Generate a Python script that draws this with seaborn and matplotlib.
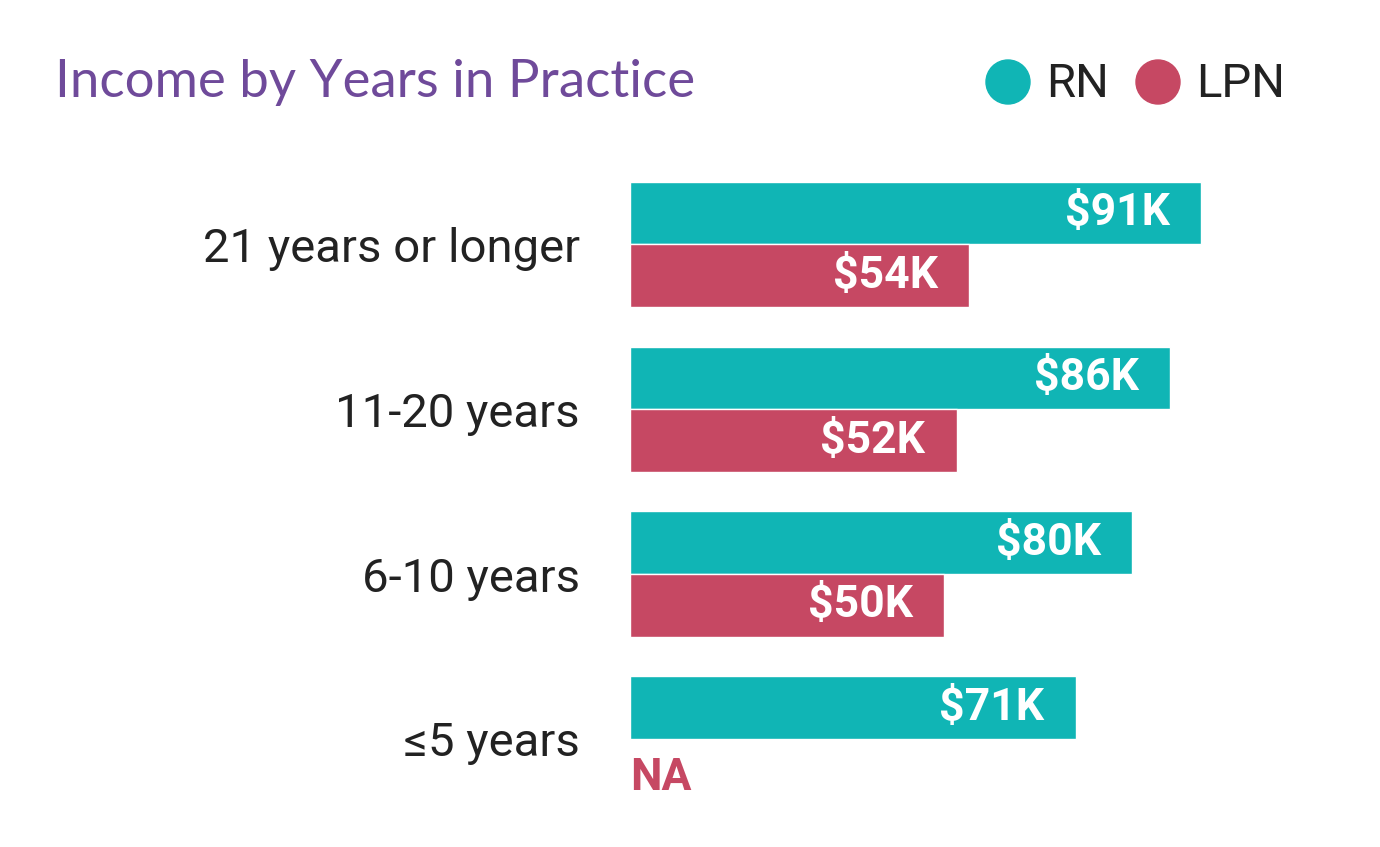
import matplotlib
matplotlib.use("Agg")
import matplotlib.pyplot as plt
import seaborn as sns
import pandas as pd
import numpy as np

categories = ["21 years or longer", "11-20 years", "6-10 years", "≤5 years"]
rn_values = [91, 86, 80, 71]
lpn_values = [54, 52, 50, np.nan]
rn_labels = ["$91K", "$86K", "$80K", "$71K"]
lpn_labels = ["$54K", "$52K", "$50K", "NA"]
series = ["RN", "LPN"]
colors = {"RN": "#10b5b5", "LPN": "#c64863"}

sns.set_theme(style="white")
plt.rcParams['font.family'] = ['Liberation Sans Narrow', 'Roboto', 'DejaVu Sans']

df = pd.DataFrame({
    "cat": categories * 2,
    "val": rn_values + lpn_values,
    "series": ["RN"] * 4 + ["LPN"] * 4,
})

W, H = 1380, 847
fig = plt.figure(figsize=(13.8, 8.47), dpi=100)
top_px, bot_px, left_px, right_px = 140, 820, 630, 1300
ax = fig.add_axes([left_px / W, 1 - bot_px / H, (right_px - left_px) / W, (bot_px - top_px) / H])
sns.barplot(data=df, y="cat", x="val", hue="series", order=categories, hue_order=series,
            palette=colors, orient="h", width=0.76, ax=ax, legend=False, saturation=1)
unit = 164.8
ax.set_ylim((bot_px - 244.5) / unit, (top_px - 244.5) / unit)
ax.set_xlim(0, (right_px - left_px) / 6.28)
for s in ax.spines.values():
    s.set_visible(False)
ax.set_xticks([])
ax.set_xlabel("")
ax.set_ylabel("")
ax.tick_params(axis="y", length=0, pad=36, labelsize=34, labelcolor="#222222")

off = 0.19
for i in range(4):
    ax.text(rn_values[i] - 5, i - off, rn_labels[i], ha="right", va="center",
            color="white", fontsize=32, fontweight="bold")
    if np.isnan(lpn_values[i]):
        ax.text(0, i + off + 0.05, lpn_labels[i], ha="left", va="center",
                color=colors["LPN"], fontsize=32, fontweight="bold")
    else:
        ax.text(lpn_values[i] - 5, i + off, lpn_labels[i], ha="right", va="center",
                color="white", fontsize=32, fontweight="bold")

fig.text(55 / W, 1 - 82 / H, "Income by Years in Practice", color="#6f4a9a",
         fontsize=38, va="center", ha="left", family=["Lato", "DejaVu Sans"])
for x, lab in [(1008, "RN"), (1158, "LPN")]:
    fig.patches.append(matplotlib.patches.Ellipse((x / W, 1 - 82 / H), 44 / W, 44 / H,
                       transform=fig.transFigure, color=colors[lab]))
    fig.text((x + 38) / W, 1 - 84 / H, lab, fontsize=34, color="#222222",
             va="center", ha="left", family=["Roboto", "DejaVu Sans"])

fig.savefig("out.png", dpi=100, facecolor="white")
